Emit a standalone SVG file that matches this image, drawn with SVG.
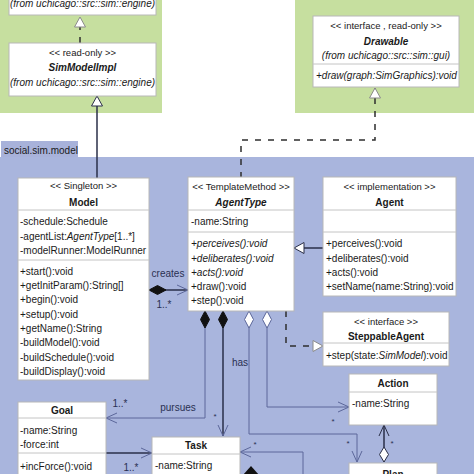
<svg xmlns="http://www.w3.org/2000/svg" width="474" height="474" viewBox="0 0 474 474">
<style>
text{font-family:"Liberation Sans",Arial,sans-serif;font-size:10px;fill:#1a1a1a}
.c{text-anchor:middle}
.b{font-weight:bold}
.i{font-style:italic}
.st{font-size:9.5px}
.lbl{fill:#2a3052}
.star{font-size:8px;fill:#2a3052}
.box{fill:#fff;stroke:#b8b8b8;stroke-width:1}
.sep{stroke:#c4c4c4;stroke-width:1}
.dk{fill:none;stroke:#2a2f48;stroke-width:1.5}
.th{fill:none;stroke:#5c679a;stroke-width:1}
.ds{fill:none;stroke:#2e2e2e;stroke-width:1.5;stroke-dasharray:6 7}
</style>
<defs>
<marker id="triD" markerUnits="userSpaceOnUse" markerWidth="20" markerHeight="20" orient="auto" refX="0" refY="0" overflow="visible"><path d="M0,0 L-10,-5.5 L-10,5.5 Z" fill="#fff" stroke="#2a2f48" stroke-width="1"/></marker>
<marker id="triG" markerUnits="userSpaceOnUse" markerWidth="20" markerHeight="20" orient="auto" refX="0" refY="0" overflow="visible"><path d="M0,0 L-10,-5.5 L-10,5.5 Z" fill="#fff" stroke="#8a8a8a" stroke-width="1"/></marker>
<marker id="openD" markerUnits="userSpaceOnUse" markerWidth="20" markerHeight="20" orient="auto" refX="0" refY="0" overflow="visible"><path d="M-11,-5 L0,0 L-11,5" fill="none" stroke="#2a2f48" stroke-width="1"/></marker>
<marker id="openT" markerUnits="userSpaceOnUse" markerWidth="20" markerHeight="20" orient="auto" refX="0" refY="0" overflow="visible"><path d="M-11,-5 L0,0 L-11,5" fill="none" stroke="#5c679a" stroke-width="1"/></marker>
<marker id="dfill" markerUnits="userSpaceOnUse" markerWidth="20" markerHeight="20" orient="auto" refX="0" refY="0" overflow="visible"><path d="M0,0 L8.5,-4.5 L17,0 L8.5,4.5 Z" fill="#111" stroke="#111" stroke-width="1"/></marker>
<marker id="dhol" markerUnits="userSpaceOnUse" markerWidth="20" markerHeight="20" orient="auto" refX="0" refY="0" overflow="visible"><path d="M0,0 L8.5,-4.5 L17,0 L8.5,4.5 Z" fill="#fff" stroke="#5c679a" stroke-width="1"/></marker>
<marker id="dholD" markerUnits="userSpaceOnUse" markerWidth="20" markerHeight="20" orient="auto" refX="0" refY="0" overflow="visible"><path d="M0,0 L7.5,-4.5 L15,0 L7.5,4.5 Z" fill="#fff" stroke="#2a2f48" stroke-width="1"/></marker>
</defs>

<!-- packages -->
<g id="pkg-engine"><rect x="0" y="0" width="162" height="113" fill="#c6df9f"/></g>
<g id="pkg-gui"><rect x="295" y="0" width="179" height="113" fill="#c6df9f"/></g>
<g id="pkg-model">
<rect x="1" y="141" width="77" height="16" fill="#a8b2da"/>
<rect x="0" y="157" width="474" height="317" fill="#a9b5dd"/>
<text x="4" y="153.5">social.sim.model</text>
</g>

<!-- connectors -->
<g id="connectors">
<path class="ds" d="M80,43 V17" marker-end="url(#triG)"/>
<path class="dk" d="M97,178 V96" marker-end="url(#triD)"/>
<path class="ds" d="M241,178 V140 H375 V88" marker-end="url(#triG)"/>
<path class="dk" d="M323,248 H294" marker-end="url(#triD)"/>
<path class="ds" d="M286,311 V346 H323" marker-end="url(#triG)"/>
<path class="dk" d="M149,290 H188" marker-start="url(#dfill)" marker-end="url(#openT)"/>
<path class="dk" d="M223,311 V436" marker-start="url(#dfill)" marker-end="url(#openT)"/>
<path class="th" d="M205,311 V418 H106" marker-start="url(#dfill)" marker-end="url(#openT)"/>
<path class="th" d="M249,311 V434 H357 V462" marker-start="url(#dhol)" marker-end="url(#openT)"/>
<path class="th" d="M267,311 V407 H349" marker-start="url(#dhol)" marker-end="url(#openT)"/>
<path class="dk" d="M106,453 H152" marker-end="url(#openT)"/>
<path class="dk" d="M384,462 V425" marker-start="url(#dholD)" marker-end="url(#openD)"/>
<path class="th" d="M303,480 V452 H240" marker-end="url(#openT)"/>
<path class="dk" d="M251,490 V467"/>
<polygon points="251,466 259,475 251,484 243,475" fill="#111"/>
<text class="lbl c" x="168" y="277">creates</text>
<text class="lbl c" x="164" y="308">1..*</text>
<text class="lbl c" x="240" y="366">has</text>
<text class="lbl c" x="178" y="411">pursues</text>
<text class="lbl c" x="120" y="407">1..*</text>
<text class="lbl c" x="131" y="471">1..*</text>
<text class="star c" x="215" y="419">*</text>
<text class="star c" x="333" y="424">*</text>
<text class="star c" x="255" y="447">*</text>
<text class="star c" x="348" y="446">*</text>
<text class="star c" x="392" y="446">*</text>
</g>

<!-- nodes -->
<g id="engine-top">
<rect class="box" x="9" y="-6" width="147" height="21"/>
<text class="c i" x="82.5" y="7">(from uchicago::src::sim::engine)</text>
</g>

<g id="SimModelImpl">
<rect class="box" x="9" y="43" width="147" height="53"/>
<text class="c st" x="82.5" y="55.5">&lt;&lt; read-only &gt;&gt;</text>
<text class="c b i" x="82.5" y="70.5">SimModelImpl</text>
<text class="c i" x="82.5" y="85.5">(from uchicago::src::sim::engine)</text>
</g>

<g id="Drawable">
<rect class="box" x="313" y="16" width="146" height="71"/>
<text class="c st" x="386" y="28.5">&lt;&lt; interface , read-only &gt;&gt;</text>
<text class="c b i" x="386" y="44.5">Drawable</text>
<text class="c i" x="386" y="58.5">(from uchicago::src::sim::gui)</text>
<line class="sep" x1="313" y1="64" x2="459" y2="64"/>
<text class="i" x="316" y="78.5">+draw(graph:SimGraphics):void</text>
</g>

<g id="Model">
<rect class="box" x="18" y="178" width="131" height="202"/>
<text class="c st" x="83.5" y="189">&lt;&lt; Singleton &gt;&gt;</text>
<text class="c b" x="83.5" y="206">Model</text>
<line class="sep" x1="18" y1="210" x2="149" y2="210"/>
<text x="20" y="225">-schedule:Schedule</text>
<text x="20" y="239.5">-agentList:<tspan class="i">AgentType</tspan>[1..*]</text>
<text x="20" y="254">-modelRunner:ModelRunner</text>
<line class="sep" x1="18" y1="260" x2="149" y2="260"/>
<text x="20" y="274.5">+start():void</text>
<text x="20" y="289">+getInitParam():String[]</text>
<text x="20" y="303">+begin():void</text>
<text x="20" y="317.5">+setup():void</text>
<text x="20" y="332">+getName():String</text>
<text x="20" y="346">-buildModel():void</text>
<text x="20" y="360.5">-buildSchedule():void</text>
<text x="20" y="375">-buildDisplay():void</text>
</g>

<g id="AgentType">
<rect class="box" x="188" y="177" width="106" height="134"/>
<text class="c st" x="241" y="189.5">&lt;&lt; TemplateMethod &gt;&gt;</text>
<text class="c b i" x="241" y="206">AgentType</text>
<line class="sep" x1="188" y1="210" x2="294" y2="210"/>
<text x="191" y="225">-name:String</text>
<line class="sep" x1="188" y1="232" x2="294" y2="232"/>
<text class="i" x="191" y="247">+perceives():void</text>
<text class="i" x="191" y="261.5">+deliberates():void</text>
<text class="i" x="191" y="275.5">+acts():void</text>
<text x="191" y="289.5">+draw():void</text>
<text x="191" y="304">+step():void</text>
</g>

<g id="Agent">
<rect class="box" x="323" y="177" width="133" height="119"/>
<text class="c st" x="389.5" y="189.5">&lt;&lt; implementation &gt;&gt;</text>
<text class="c b" x="389.5" y="206">Agent</text>
<line class="sep" x1="323" y1="210" x2="456" y2="210"/>
<line class="sep" x1="323" y1="232" x2="456" y2="232"/>
<text x="326" y="247">+perceives():void</text>
<text x="326" y="261.5">+deliberates():void</text>
<text x="326" y="275.5">+acts():void</text>
<text x="326" y="290">+setName(name:String):void</text>
</g>

<g id="SteppableAgent">
<rect class="box" x="323" y="312" width="126" height="54"/>
<text class="c st" x="386" y="324.5">&lt;&lt; interface &gt;&gt;</text>
<text class="c b" x="386" y="339.5">SteppableAgent</text>
<line class="sep" x1="323" y1="343" x2="449" y2="343"/>
<text x="326" y="358.5">+step(state:<tspan class="i">SimModel</tspan>):void</text>
</g>

<g id="Action">
<rect class="box" x="349" y="374" width="88" height="51"/>
<text class="c b" x="393" y="387">Action</text>
<line class="sep" x1="349" y1="392" x2="437" y2="392"/>
<text x="352" y="406.5">-name:String</text>
</g>

<g id="Goal">
<rect class="box" x="18" y="402" width="88" height="80"/>
<text class="c b" x="62" y="414">Goal</text>
<line class="sep" x1="18" y1="418" x2="106" y2="418"/>
<text x="20" y="433.5">-name:String</text>
<text x="20" y="447.5">-force:int</text>
<line class="sep" x1="18" y1="453" x2="106" y2="453"/>
<text x="20" y="469.5">+incForce():void</text>
</g>

<g id="Task">
<rect class="box" x="152" y="437" width="88" height="45"/>
<text class="c b" x="196" y="449">Task</text>
<line class="sep" x1="152" y1="454" x2="240" y2="454"/>
<text x="155" y="468.5">-name:String</text>
</g>

<g id="Plan">
<rect class="box" x="349" y="463" width="88" height="20"/>
<text class="c b" x="393" y="478">Plan</text>
</g>
</svg>
